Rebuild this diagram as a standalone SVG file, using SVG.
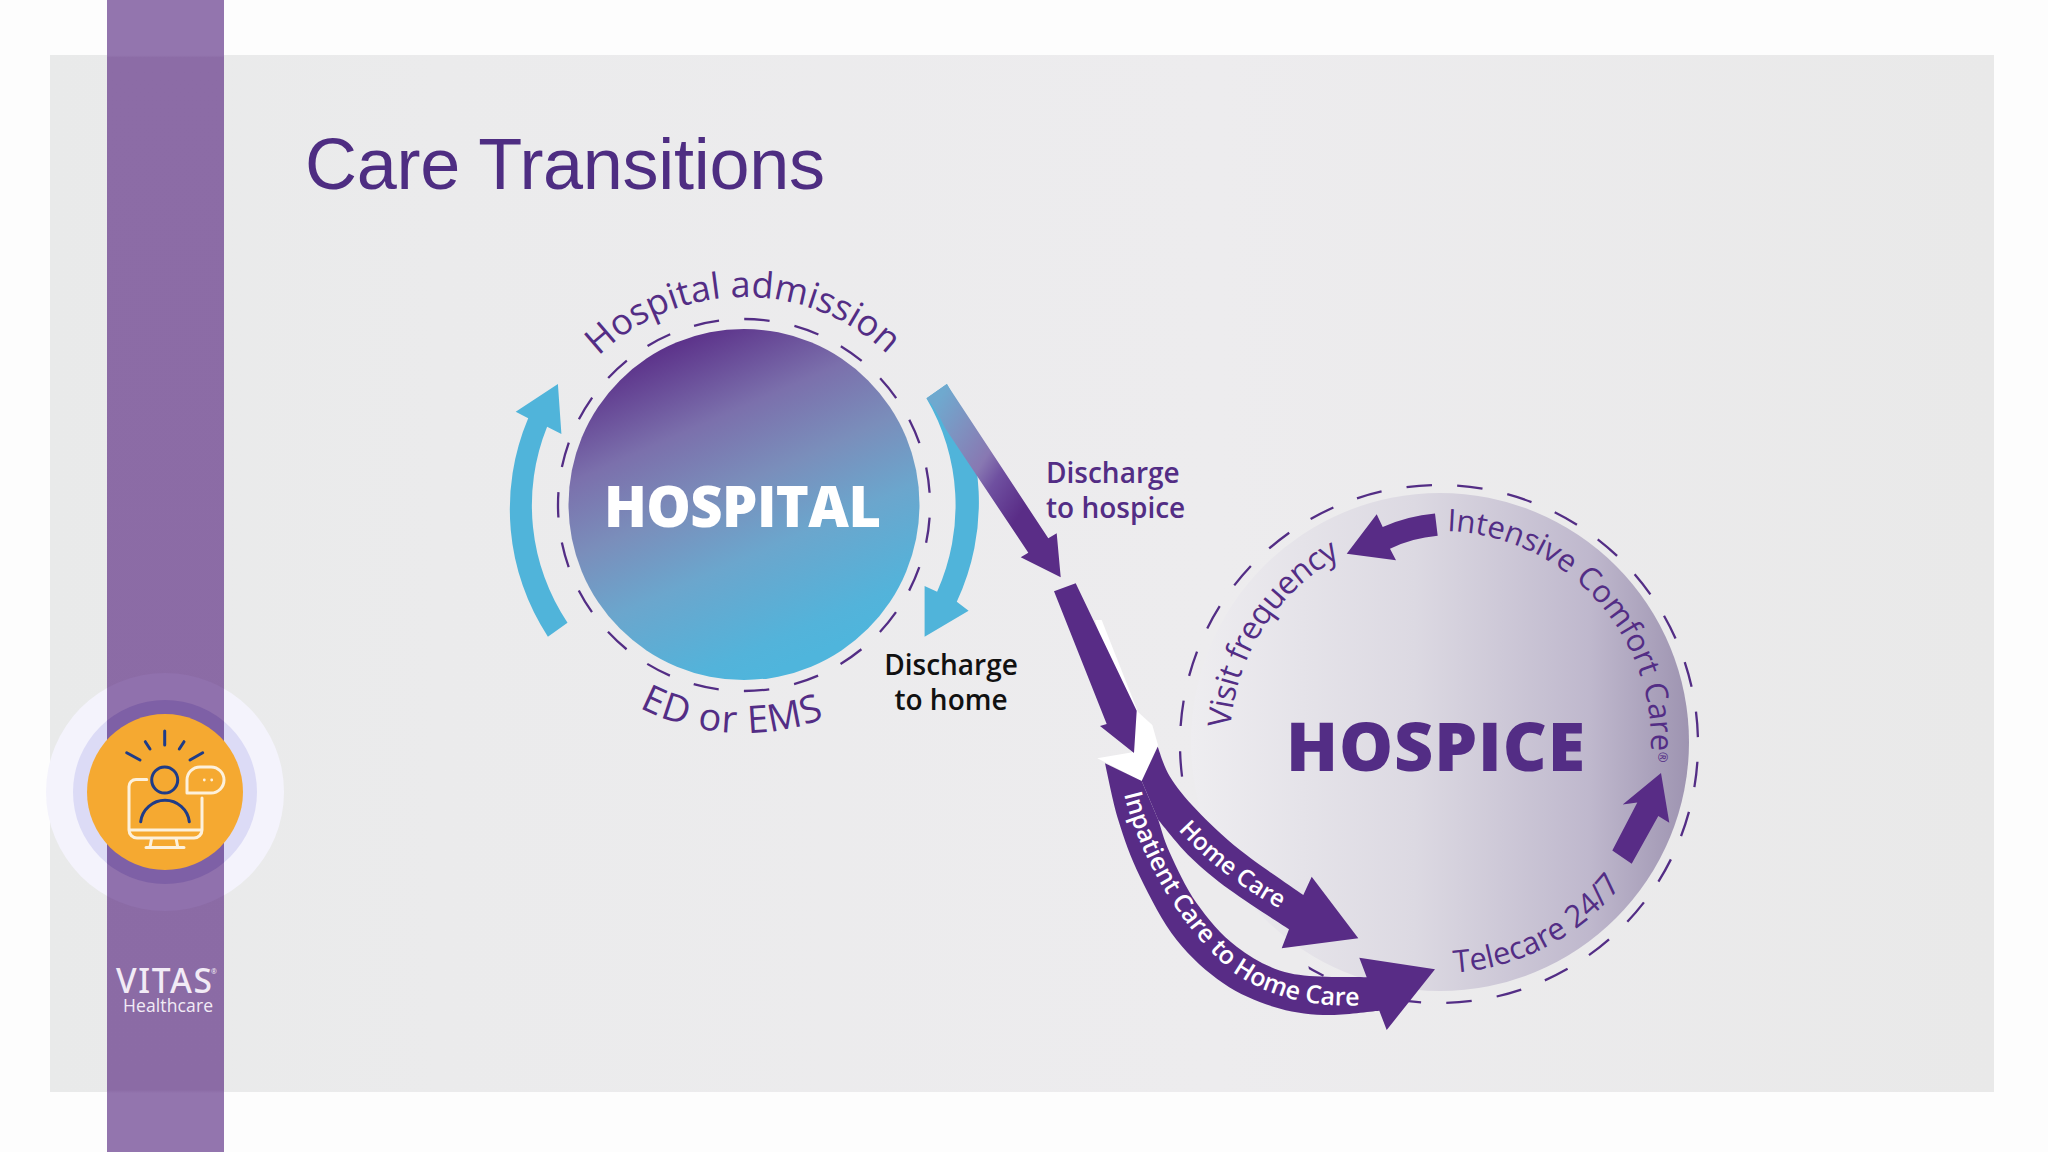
<svg xmlns="http://www.w3.org/2000/svg" width="2048" height="1152" viewBox="0 0 2048 1152">
<style>
.ring{font-family:"Open Sans","Noto Sans",sans-serif;fill:#532d85}
.w{font-family:"Open Sans","Noto Sans",sans-serif;font-weight:600;fill:#fff;font-size:24px}
.lbl{font-family:"Open Sans","Noto Sans",sans-serif;font-weight:600;font-size:28px;text-anchor:middle}
.big{font-family:"Open Sans","Noto Sans",sans-serif;font-weight:800}
.dash{fill:none;stroke:#532d85;stroke-width:2.3}
.p{fill:#582c86}
.b{fill:#50b4da}
.navy{fill:none;stroke:#1f3c88;stroke-width:3;stroke-linecap:round}
.cream{fill:none;stroke:#fdf1dc;stroke-width:3;stroke-linecap:round;stroke-linejoin:round}
</style>
<defs>
<linearGradient id="panel" x1="0" x2="1" y1="0" y2="0"><stop offset="0" stop-color="#e9eaea"/><stop offset=".2" stop-color="#ebebec"/><stop offset=".6" stop-color="#edecee"/><stop offset="1" stop-color="#e9e9e9"/></linearGradient>
<linearGradient id="bar" x1="0" x2="0" y1="0" y2="1"><stop offset="0" stop-color="#9375ae"/><stop offset=".048" stop-color="#9375ae"/><stop offset=".05" stop-color="#8c6ca6"/><stop offset=".946" stop-color="#8b6ba5"/><stop offset=".949" stop-color="#9375ae"/><stop offset="1" stop-color="#9375ae"/></linearGradient>
<linearGradient id="hosp" gradientUnits="userSpaceOnUse" x1="660" y1="340" x2="800" y2="660"><stop offset="0" stop-color="#592c87"/><stop offset=".27" stop-color="#7b70ac"/><stop offset=".47" stop-color="#7a8ebb"/><stop offset=".67" stop-color="#6ba6cd"/><stop offset=".92" stop-color="#53b3da"/><stop offset="1" stop-color="#4fb5dc"/></linearGradient>
<linearGradient id="hospice" gradientUnits="userSpaceOnUse" x1="1191" y1="0" x2="1689" y2="0"><stop offset="0" stop-color="#eeedf0"/><stop offset=".45" stop-color="#dcd9e2"/><stop offset=".8" stop-color="#bfb8cd"/><stop offset="1" stop-color="#9e94b1"/></linearGradient>
<linearGradient id="dh" gradientUnits="userSpaceOnUse" x1="925" y1="420" x2="1050" y2="500"><stop offset="0" stop-color="#6fa9cf"/><stop offset=".25" stop-color="#7f90bf"/><stop offset=".48" stop-color="#8878b2"/><stop offset=".62" stop-color="#6f50a0"/><stop offset=".88" stop-color="#5a2d87"/></linearGradient>
<clipPath id="barclip"><rect x="107" y="0" width="117" height="1152"/></clipPath>
<path id="tHA" d="M536,505 A208,208 0 0 1 952,505"/>
<path id="tED" d="M516,505 A228,228 0 0 0 972,505"/>
<path id="tVF" d="M1230,742 A210,210 0 0 1 1440,532"/>
<path id="tIC" d="M1440,531 A211,211 0 1 1 1440,953"/>
<path id="tTC" d="M1209,742 A231,231 0 0 0 1671,742"/>
<path id="tHC" d="M1178,830 Q1222,878 1284,911 L1310,922"/>
<path id="tIP" d="M1124,794 C1140,860 1185,935 1237,975 C1275,1000 1320,1008 1366,1005 L1420,1000"/>
</defs>
<rect width="2048" height="1152" fill="#fdfdfd"/>
<rect x="50" y="55" width="1944" height="1037" fill="url(#panel)"/>
<g id="rail">
<circle cx="165" cy="792" r="119" fill="#f4f3fc"/>
<circle cx="165" cy="792" r="92" fill="#dcdbf6"/>
<rect x="107" y="0" width="117" height="1152" fill="url(#bar)"/>
<g clip-path="url(#barclip)"><circle cx="165" cy="792" r="119" fill="#9071ad"/><circle cx="165" cy="792" r="92" fill="#7e60a6"/></g>
<circle cx="165" cy="792" r="78" fill="#f5a931"/>
<g class="navy"><path d="M164.7,731V745M145.3,741.7L150,749M184,741.7L179.3,749M126.7,752.7L140,760M202.7,752.7L190,760"/><circle cx="164.7" cy="780" r="13"/><path d="M140.7,821.7A24.5,24.5 0 0 1 189.3,821.7"/></g>
<g class="cream"><path d="M146.7,779.5H136A7,7 0 0 0 129,786.5V830A8,8 0 0 0 137,838H194A8,8 0 0 0 202,830V798M129,830H202M151.7,838L150,847M176,838L177.7,847M146,847.5H184"/><path d="M187,793V780A13,13 0 0 1 200,767H211A13,13 0 0 1 211,793Z"/></g>
<circle cx="204.3" cy="780" r="1.4" fill="#fdf1dc"/><circle cx="211.7" cy="780" r="1.4" fill="#fdf1dc"/>
<text x="116" y="993" font-family="'Noto Sans',sans-serif" font-size="33.5" font-weight="500" fill="#f2ebf6" textLength="96">VITAS</text>
<text x="211" y="974" font-family="'Noto Sans',sans-serif" font-size="7" fill="#f2ebf6">®</text>
<text x="123" y="1011.5" font-family="'Open Sans',sans-serif" font-size="17.5" fill="#f2ebf6" textLength="90">Healthcare</text>
</g>
<text id="title" x="305" y="189" font-family="'Liberation Sans',Arial,sans-serif" font-size="72" fill="#4e2d82" textLength="520">Care Transitions</text>
<g id="hospital">
<circle cx="744" cy="505" r="186" class="dash" stroke-dasharray="25.5 25.31" stroke-dashoffset="38.2"/>
<circle cx="744" cy="504.5" r="175.5" fill="url(#hosp)"/>
<text class="big" x="742.5" y="527" font-size="56" fill="#fff" text-anchor="middle" textLength="277">HOSPITAL</text>
<text class="ring" font-size="36"><textPath href="#tHA" startOffset="49.8%" text-anchor="middle">Hospital admission</textPath></text>
<text class="ring" font-size="38" letter-spacing="1"><textPath href="#tED" startOffset="48.2%" text-anchor="middle">ED or EMS</textPath></text>
</g>
<g id="hospice-node">
<circle cx="1439" cy="744" r="259" class="dash" stroke-dasharray="25.5 25.35" stroke-dashoffset="33"/>
<path fill="#ecebed" d="M1190,825L1300,895L1309.5,975L1250,975L1190,900Z"/>
<circle cx="1440" cy="742" r="249" fill="url(#hospice)"/>
<text class="big" x="1435.5" y="771" font-size="68" fill="#532d85" text-anchor="middle" textLength="299">HOSPICE</text>
<text class="ring" font-size="32"><textPath href="#tVF" startOffset="14" textLength="212">Visit frequency</textPath></text>
<text class="ring" font-size="31"><textPath href="#tIC" startOffset="7">Intensive Comfort Care<tspan font-size="13" baseline-shift="8">®</tspan></textPath></text>
<text class="ring" font-size="31"><textPath href="#tTC" startOffset="377">Telecare 24/7</textPath></text>
</g>
<g id="connectors">
<path class="b" d="M547.9,636.7L567.5,622.7A211,211 0 0 1 547.1,426.7L561.4,434L557.9,384L515.7,411.7L528.2,418.3A233,233 0 0 0 547.9,636.7Z"/>
<path class="b" d="M926.4,398.3L947,384A235,235 0 0 1 956.8,601.7L968.6,610.7L924.6,636.7V586L937.1,591.7A211,211 0 0 0 926.4,398.3Z"/>
<path fill="url(#dh)" d="M926.7,398.3L946.7,384L1048.3,538.3L1056.7,533.3L1060.7,577.3L1020.7,557.3L1028.3,552.7L945,428Q936,409 926.7,398.3Z"/>
<path fill="#fff" d="M1095,620L1101.7,620L1138,712L1152.3,725L1158,745L1141.7,781L1097.3,758.3L1134,752Z"/>
<path class="p" d="M1054,591.3L1075.7,583.2L1136.7,710.7L1134,753L1100,726L1106.7,724Z"/>
<path class="p" d="M1157.7,746.7C1159.7,751.7 1163.5,766.2 1170,776.7C1176.5,787.2 1185,797.8 1196.7,810C1208.4,822.2 1222.2,835.8 1240,850C1257.8,864.2 1292.7,887.5 1303.3,895L1311.7,876.7L1358.3,938.3L1281.7,948.3L1289,929.3C1279.2,922.8 1246.5,902.1 1230,890C1213.5,877.9 1202,868.4 1190,856.7C1178,845 1163.6,826.1 1158.3,820L1141.7,781Z"/>
<path class="p" d="M1105,763.3L1141.7,781L1158.3,820C1160.3,825.6 1163.6,839.4 1170,853.3C1176.4,867.2 1185.6,887.7 1196.7,903.3C1207.8,918.9 1221.1,935 1236.7,946.7C1252.3,958.4 1268.3,968.2 1290,973.3C1311.7,978.4 1353.9,976.6 1366.7,977.3L1359.3,957.7L1435,969.3L1386.7,1030L1379.3,1010.7C1370,1011.4 1341,1015.7 1323.3,1015C1305.6,1014.3 1290,1012 1273.3,1006.7C1256.6,1001.4 1239.4,994.4 1223.3,983.3C1207.2,972.2 1190.8,957.8 1176.7,940C1162.6,922.2 1149.7,896.7 1140,876.7C1130.3,856.7 1124.1,839 1118.3,820C1112.5,801 1107.2,772.8 1105,763.3Z"/>
<path class="p" d="M1435,513.6L1437.7,535.8Q1412,538 1390,548.8L1396,560.3L1346.7,553.8L1376.7,514.3L1382.7,527Q1408,516 1435,513.6Z"/>
<path class="p" d="M1612.3,850.4L1631.7,863.7L1658.3,815.9L1669.3,822.8L1661,773L1622.7,804.4L1637.3,802.5Z"/>
<text class="w"><textPath href="#tHC" startOffset="0">Home Care</textPath></text>
<text class="w" style="font-size:25px"><textPath href="#tIP" startOffset="0">Inpatient Care to Home Care</textPath></text>
<text class="lbl" x="951" y="675" fill="#111">Discharge</text>
<text class="lbl" x="951" y="710" fill="#111">to home</text>
<text class="lbl" x="1046" y="483" fill="#532d85" style="text-anchor:start">Discharge</text>
<text class="lbl" x="1046" y="518" fill="#532d85" style="text-anchor:start">to hospice</text>
</g>
</svg>
